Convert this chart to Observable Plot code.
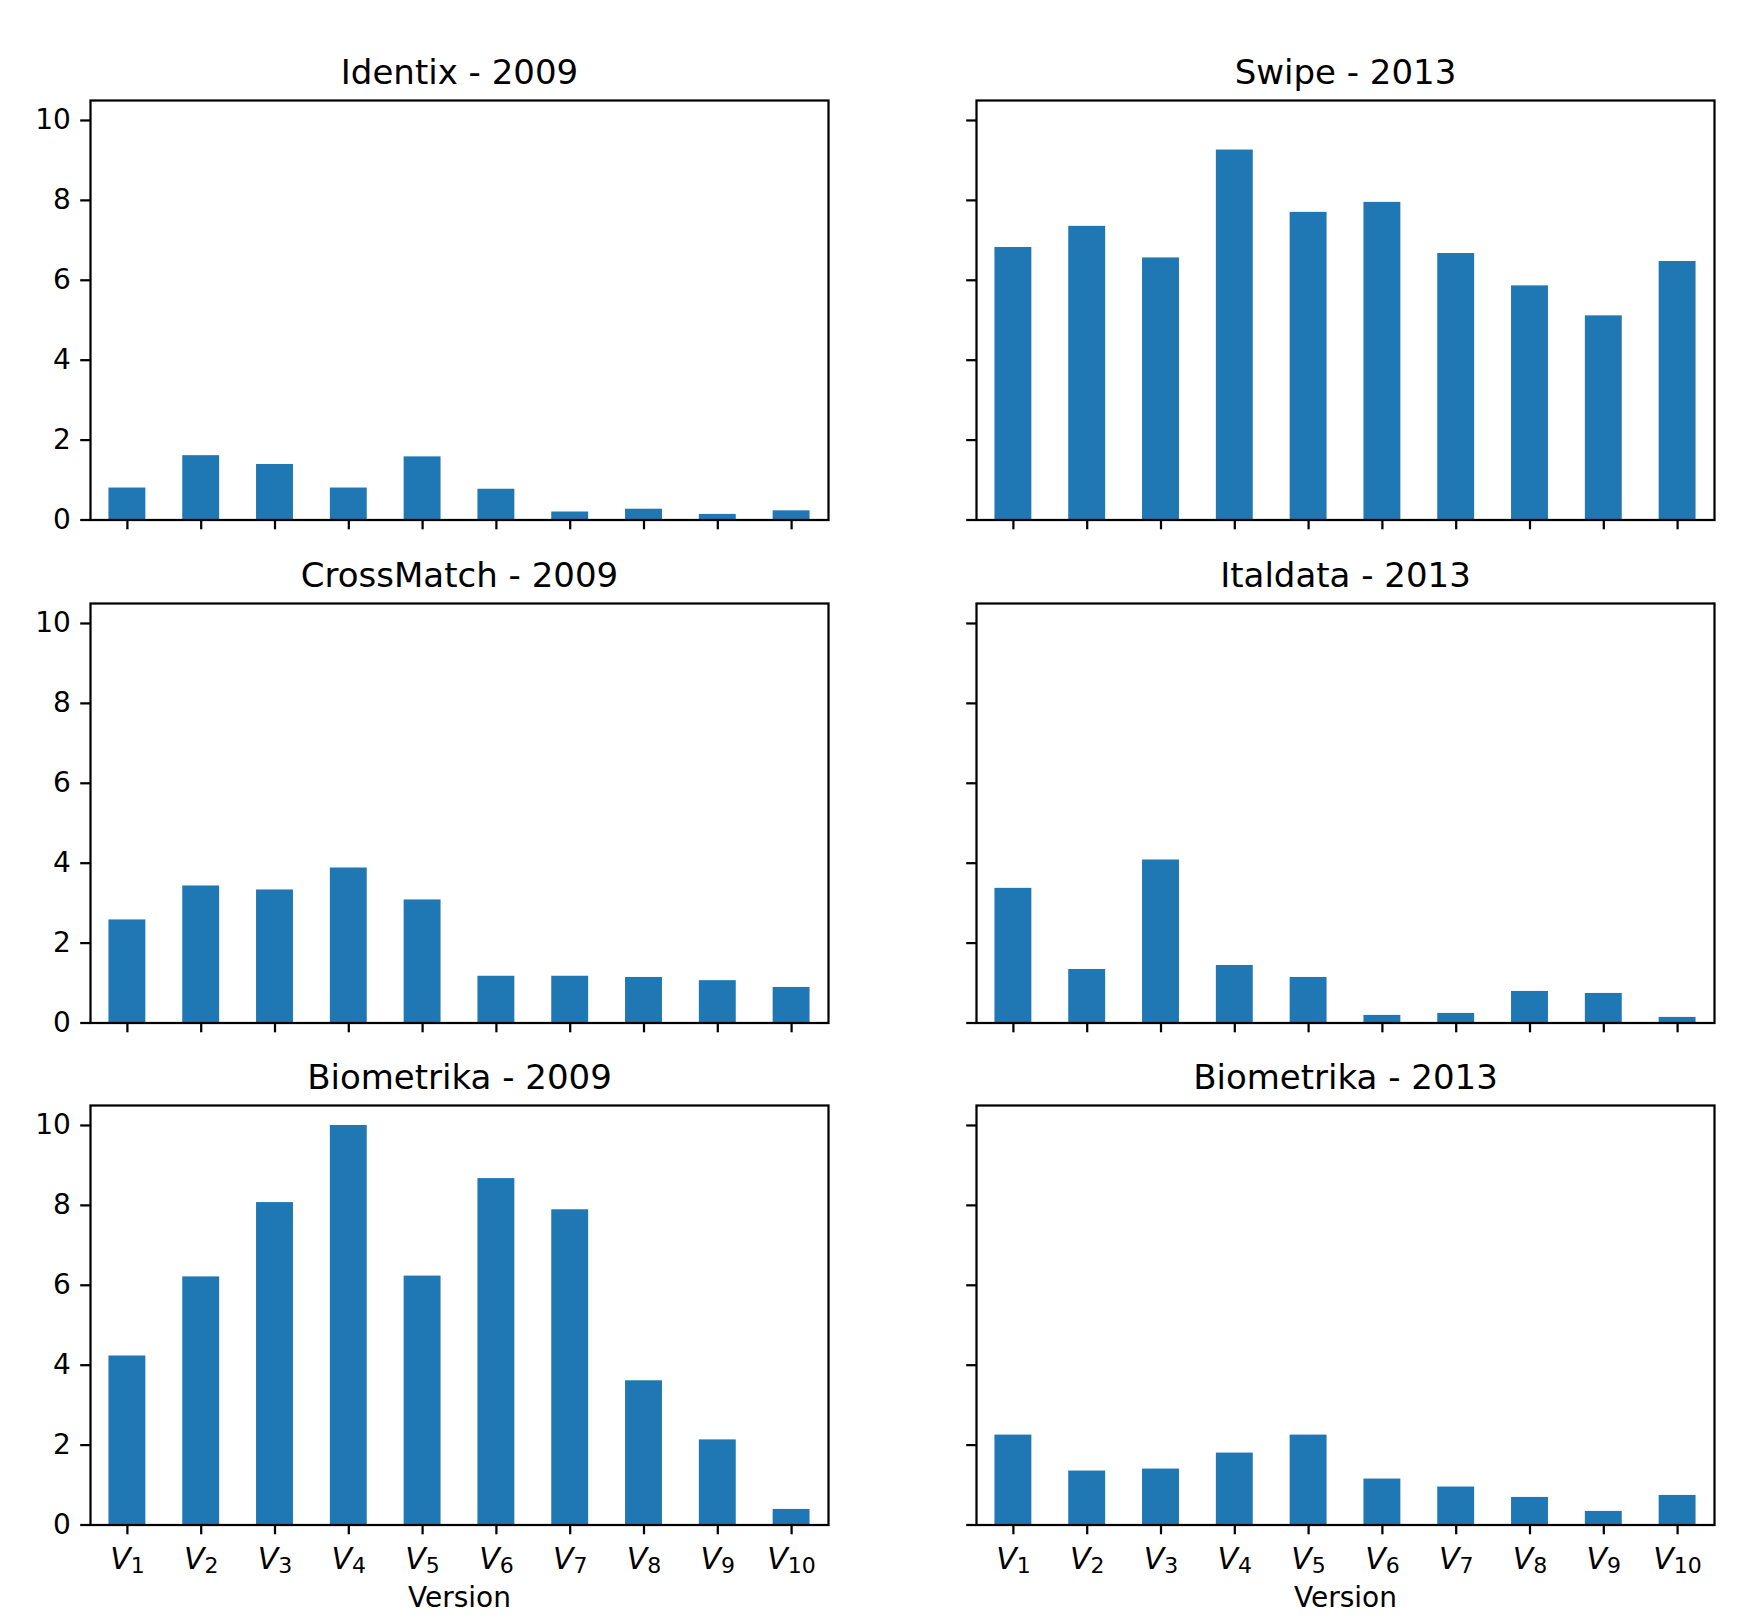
<!DOCTYPE html>
<html><head><meta charset="utf-8">
<script src="https://cdn.jsdelivr.net/npm/d3@7"></script>
<script src="https://cdn.jsdelivr.net/npm/@observablehq/plot@0.6"></script>
<style>
body{margin:0;background:#fff;}
#chart{position:relative;width:1759px;height:1623px;background:#fff;overflow:hidden;}
#chart svg{position:absolute;}
</style></head><body><div id="chart"></div>
<script>
const versions = ["V1","V2","V3","V4","V5","V6","V7","V8","V9","V10"];
const yTicks = [0, 2, 4, 6, 8, 10];
const titles = ["Identix - 2009", "Swipe - 2013", "CrossMatch - 2009", "Italdata - 2013", "Biometrika - 2009", "Biometrika - 2013"];
const xAxisLabel = "Version";

const identix2009    = [0.80, 1.61, 1.39, 0.80, 1.58, 0.77, 0.20, 0.27, 0.14, 0.23];
const swipe2013      = [6.82, 7.35, 6.56, 9.26, 7.70, 7.95, 6.67, 5.86, 5.11, 6.47];
const crossmatch2009 = [2.58, 3.43, 3.33, 3.88, 3.08, 1.17, 1.17, 1.14, 1.06, 0.89];
const italdata2013   = [3.37, 1.34, 4.08, 1.44, 1.14, 0.19, 0.24, 0.79, 0.74, 0.14];
const biometrika2009 = [4.23, 6.21, 8.07, 10.0, 6.23, 8.67, 7.89, 3.61, 2.13, 0.39];
const biometrika2013 = [2.25, 1.35, 1.40, 1.80, 2.25, 1.15, 0.95, 0.69, 0.34, 0.74];

const panelValues = [identix2009, swipe2013, crossmatch2009, italdata2013, biometrika2009, biometrika2013];

const chart = document.getElementById("chart");
const ns = "http://www.w3.org/2000/svg";
const frameW = 738, frameH = 419.5;
const colLeft = [90, 976];
const rowTop = [100, 602.5, 1105];
const mLeft = 90, mRight = 40, mTop = 60;

panelValues.forEach((vals, i) => {
  const col = i % 2, row = Math.floor(i / 2);
  const bottomRow = row === 2;
  const mBottom = bottomRow ? 98.5 : 23;
  const data = versions.map((v, j) => ({version: v, value: vals[j]}));
  const marks = [
    Plot.barY(data, {x: "version", y: "value", fill: "#1f77b4"}),
    Plot.frame({stroke: "black", strokeWidth: 2.24}),
    Plot.axisY({ticks: yTicks, tickSize: 9.8, tickPadding: 9.8, strokeWidth: 2.24, label: null, fontSize: 28,
      tickFormat: col === 0 ? (d => String(d)) : (() => "")}),
    Plot.axisX({tickSize: 9.8, strokeWidth: 2.24, label: null, tickFormat: () => ""}),
    Plot.text([titles[i]], {text: d => d, frameAnchor: "top", dy: -16.7, lineAnchor: "bottom", fontSize: 34})
  ];
  if (bottomRow) {
    marks.push(Plot.text(versions, {x: d => d, text: d => d, frameAnchor: "bottom", dy: 43.5, lineAnchor: "bottom", fontSize: 30}));
    marks.push(Plot.text([xAxisLabel], {text: d => d, frameAnchor: "bottom", dy: 82.3, lineAnchor: "bottom", fontSize: 28}));
  }
  const svg = Plot.plot({
    width: mLeft + frameW + mRight,
    height: mTop + frameH + mBottom,
    marginLeft: mLeft, marginRight: mRight, marginTop: mTop, marginBottom: mBottom,
    style: {fontFamily: "DejaVu Sans", fontSize: "28px", color: "black", background: "transparent", overflow: "visible"},
    x: {type: "band", domain: versions, paddingInner: 0.5, paddingOuter: 0.25, round: false},
    y: {domain: [0, 10.5]},
    marks
  });
  svg.style.left = (colLeft[col] - mLeft) + "px";
  svg.style.top = (rowTop[row] - mTop) + "px";
  svg.querySelectorAll("text").forEach(t => {
    const s = t.textContent;
    if (!versions.includes(s) || t.children.length) return;
    t.textContent = "";
    const a = document.createElementNS(ns, "tspan");
    a.setAttribute("font-style", "italic");
    a.textContent = s.slice(0, 1);
    const b = document.createElementNS(ns, "tspan");
    b.setAttribute("font-size", "22");
    b.setAttribute("dy", "4.5");
    b.textContent = s.slice(1);
    t.appendChild(a); t.appendChild(b);
  });
  chart.appendChild(svg);
});
</script></body></html>
